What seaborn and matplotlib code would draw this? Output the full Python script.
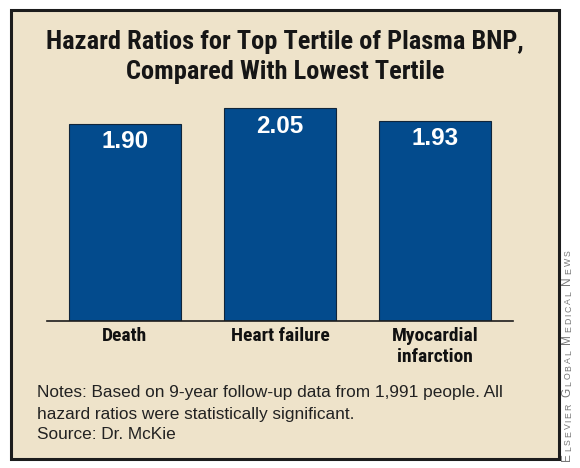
import matplotlib
matplotlib.use("Agg")
import matplotlib.pyplot as plt
import seaborn as sns
import pandas as pd
from matplotlib.patches import Rectangle

# ---- data ----
categories = ["Death", "Heart failure", "Myocardial\ninfarction"]
hazard_ratios = [1.90, 2.05, 1.93]
value_labels = ["1.90", "2.05", "1.93"]
title_lines = ["Hazard Ratios for Top Tertile of Plasma BNP,",
               "Compared With Lowest Tertile"]
note_lines = ["Notes: Based on 9-year follow-up data from 1,991 people. All",
              "hazard ratios were statistically significant.",
              "Source: Dr. McKie"]
credit = "Elsevier Global Medical News"

BG = "#EEE3CA"
BAR = "#034B8D"
COND = ["Roboto Condensed", "DejaVu Sans"]
REG = ["Liberation Sans", "DejaVu Sans"]

sns.set_theme(style="white")
plt.rcParams["font.family"] = REG

W, H = 580, 468
fig = plt.figure(figsize=(W / 100, H / 100), dpi=100, facecolor="white")

def fx(px):
    return px / W

def fy(py):
    return (H - py) / H

# framed panel
fig.add_artist(Rectangle((fx(11), fy(459)), fx(559) - fx(11), fy(10) - fy(459),
                         transform=fig.transFigure, facecolor=BG,
                         edgecolor="#1c1c1c", linewidth=2.2, zorder=0))

ax = fig.add_axes([fx(47), fy(321), fx(513) - fx(47), 2.2 * 103.7 / H])
ax.set_facecolor("none")
df = pd.DataFrame({"cat": categories, "hr": hazard_ratios})
sns.barplot(data=df, x="cat", y="hr", color=BAR, saturation=1, width=0.72,
            edgecolor="#10253a", linewidth=0.8, ax=ax)
ax.set_ylim(0, 2.2)
ax.set_xlim(-0.5, 2.5)
for s in ["top", "right", "left"]:
    ax.spines[s].set_visible(False)
ax.spines["bottom"].set_color("#1c1c1c")
ax.spines["bottom"].set_linewidth(1.2)
ax.set_yticks([])
ax.set_xlabel("")
ax.set_ylabel("")
ax.tick_params(axis="x", length=0, pad=4.5)
ax.set_xticks(range(len(categories)))
ax.set_xticklabels(categories, fontsize=14, fontweight="bold",
                   family=COND, color="#111111", linespacing=1.2)

for i, (v, lab) in enumerate(zip(hazard_ratios, value_labels)):
    ax.annotate(lab, xy=(i, v), xytext=(0, -18), textcoords="offset pixels",
                ha="center", va="center", color="white", fontsize=17.5,
                fontweight="bold", family=REG)

# title
fig.text(fx(285), fy(49), title_lines[0], ha="center", va="baseline",
         fontsize=19, fontweight="bold", family=COND, color="#161616")
fig.text(fx(285), fy(78.5), title_lines[1], ha="center", va="baseline",
         fontsize=19, fontweight="bold", family=COND, color="#161616")

# notes
for yb, line in zip([397.5, 418.5, 439], note_lines):
    fig.text(fx(37), fy(yb), line, ha="left", va="baseline",
             fontsize=12.4, family=REG, color="#222222")

# vertical small-caps credit
prev = None
gap_pending = 0.0
for k, ch in enumerate(credit):
    if ch == " ":
        gap_pending += 3.5
        continue
    big = (k == 0) or (credit[k - 1] == " ")
    size = 8.5 if big else 6.3
    kw = dict(rotation=90, ha="right", va="bottom", fontsize=size,
              color="#777777", family=REG)
    if prev is None:
        prev = fig.text(fx(573), fy(461), ch.upper(), **kw)
    else:
        prev = ax.annotate(ch.upper(), xy=(1, 1), xycoords=prev,
                           xytext=(0, 1.3 + gap_pending), textcoords="offset points",
                           annotation_clip=False, **kw)
    gap_pending = 0.0

fig.savefig("out.png", dpi=100, facecolor="white")
